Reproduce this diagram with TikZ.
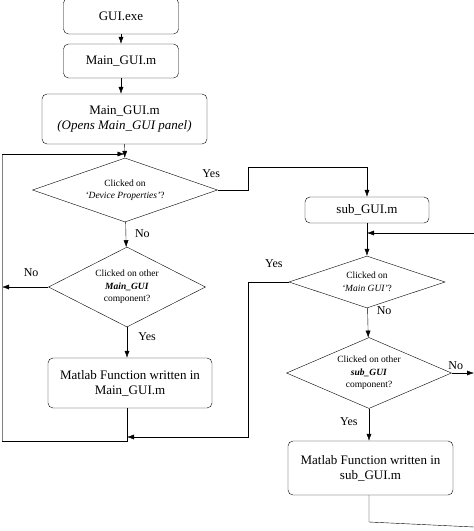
\documentclass[tikz,border=0pt]{standalone}
\usepackage{fontspec}
\setmainfont{Liberation Serif}
\usepackage{tikz}
\usetikzlibrary{positioning,shapes.geometric,arrows.meta}
\tikzset{node distance=2cm, auto, >={Latex[length=7pt, width=5pt]}, line width=0.75pt,
  block/.style={draw, rounded corners=5pt, align=center, inner sep=0pt,
    font=\fontsize{13}{15}\selectfont},
  decision/.style={draw, diamond, aspect=2, align=center, inner sep=0pt,
    font=\fontsize{9.5}{12.5}\selectfont},
  lbl/.style={font=\fontsize{12}{14}\selectfont, inner sep=0pt}}

\begin{document}
\begin{tikzpicture}[x=1pt, y=-1pt]
      \useasboundingbox (0,0) rectangle (474,531);

      \node  (exe)  [block, minimum width=115pt, minimum height=36pt] at (121,16) {GUI.exe};
      \node  (main) [block, minimum width=115pt, minimum height=34pt, node distance=45pt, below of=exe] {Main\_GUI.m};
      \node  (panel) [block, minimum width=165pt, minimum height=50pt, node distance=58pt, below of=main, xshift=3.5pt] {Main\_GUI.m\\ \textit{(Opens Main\_GUI panel)}};
      \node  (dev) [decision, minimum width=185pt, minimum height=64pt, node distance=71pt, below of=panel, xshift=0.5pt] {Clicked on\\ \textit{`Device Properties'}?};
      \node  (other) [decision, minimum width=157pt, minimum height=80pt, node distance=97pt, below of=dev, xshift=2pt] {Clicked on other\\ \textbf{\textit{Main\_GUI}}\\ component?};
      \node  (fmain) [block, minimum width=164pt, minimum height=50pt, node distance=96pt, below of=other, xshift=3pt] {Matlab Function written in\\ Main\_GUI.m};

      \node  (sub) [block, minimum width=124pt, minimum height=26pt, node distance=242pt, right of=dev, yshift=-20pt] {sub\_GUI.m};
      \node  (mgui) [decision, minimum width=156pt, minimum height=52pt, node distance=72pt, below of=sub] {Clicked on\\ \textit{`Main GUI'}?};
      \node  (osub) [decision, minimum width=165pt, minimum height=71pt, node distance=91pt, below of=mgui, xshift=2pt] {Clicked on other\\ \textbf{\textit{sub\_GUI}}\\ component?};
      \node  (fsub) [block, minimum width=165pt, minimum height=54pt, node distance=95pt, below of=osub, xshift=1.5pt] {Matlab Function written in\\ sub\_GUI.m};

      \coordinate (lt) at (2,154);
      \coordinate (lb) at (2,441);
      \coordinate (ry) at (248,167);
      \coordinate (rb) at (248,437);
      \coordinate (rr) at (474,233);
      \coordinate (re) at (474,373);
      \coordinate (rd) at (474,527);

      \draw[->] (exe) to (main);
      \draw[->] (main) to (main |- panel.north);
      \draw[->] (panel) to (dev);
      \draw[->] (dev) to node[lbl, pos=0.45, xshift=24pt, swap] {No} (other);
      \draw[->] (other.south) to node[lbl, pos=0.3, xshift=29pt, swap] {Yes} (other.south |- fmain.north);
      \draw[->] (other.west) to node[lbl, pos=0.37, yshift=19pt] {No} (other.west -| lb);

      % back to the main panel
      \draw (other.south |- fmain.south) -- (other.south |- lb) -- (lb);
      \draw[gray] (lb) -- (lt);
      \draw[->] (lt) -- (lt -| panel.south);

      % over to the sub panel
      \draw[->] (dev.east) node[lbl, xshift=-6.5pt, yshift=16pt] {Yes} -- (dev.east -| ry) -- (ry) -- (ry -| sub.north) -- (sub.north);
      \draw[->] (sub) to (mgui);
      \draw[->] (rr) -- (rr -| mgui.north);
      \draw[->] (mgui.west) node[lbl, xshift=-15pt, yshift=18pt] {Yes} -- (mgui.west -| rb) -- (rb) -- (rb -| other.south);
      \draw[->] (mgui) to node[lbl, pos=0.1, xshift=24pt, swap] {No} (osub);
      \draw[->] (osub.east) node[lbl, xshift=4pt, yshift=7pt] {No} -- (osub.east -| re);
      \draw[->] (osub.south) to node[lbl, pos=0.4, xshift=-29pt] {Yes} (osub.south |- fsub.north);
      \draw (osub.south |- fsub.south) -- (osub.south |- 0,522) -- (rd);
    \end{tikzpicture}
\end{document}
